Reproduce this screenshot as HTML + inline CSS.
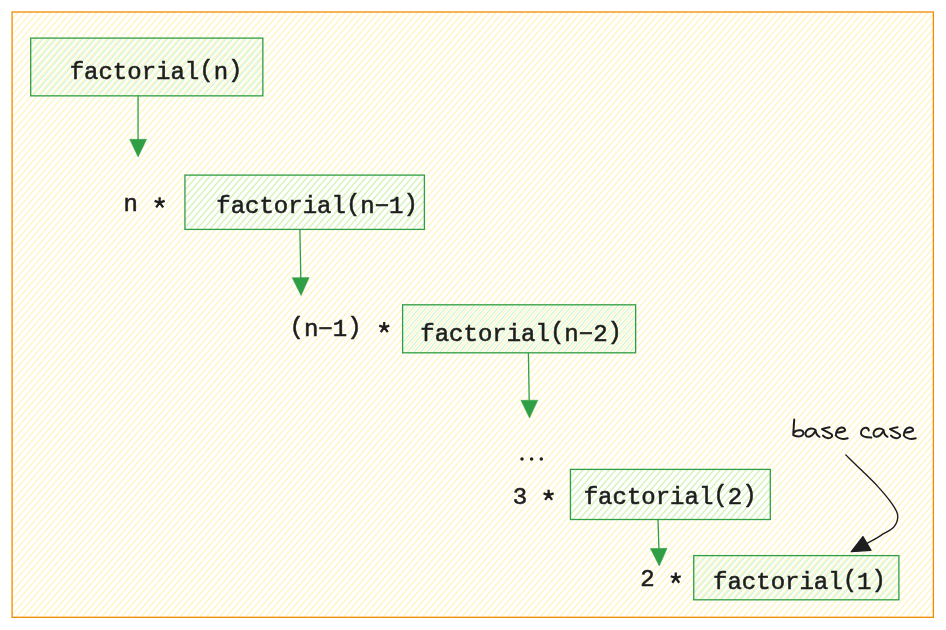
<!DOCTYPE html><html><head><meta charset="utf-8"><style>html,body{margin:0;padding:0;background:#fff;width:946px;height:630px;overflow:hidden}svg{display:block;will-change:transform}text{font-family:"Liberation Mono",monospace;font-size:24px;fill:#1e1e1e;stroke:#1e1e1e;stroke-width:0.55px}</style></head><body>
<svg width="946" height="630" viewBox="0 0 946 630">
<rect width="946" height="630" fill="#fff"/>
<path d="M18.62 12.00L12.07 19.53M25.16 12.00L12.07 27.06M31.71 12.00L12.07 34.60M38.26 12.00L12.07 42.13M44.80 12.00L12.07 49.66M51.35 12.00L12.07 57.19M57.89 12.00L12.07 64.72M64.44 12.00L12.07 72.26M70.99 12.00L12.07 79.79M77.53 12.00L12.07 87.32M84.08 12.00L12.07 94.85M90.63 12.00L12.07 102.39M97.17 12.00L12.07 109.92M103.72 12.00L12.07 117.45M110.27 12.00L12.07 124.98M116.81 12.00L12.07 132.51M123.36 12.00L12.07 140.05M129.91 12.00L12.07 147.58M136.45 12.00L12.07 155.11M143.00 12.00L12.07 162.64M149.54 12.00L12.07 170.17M156.09 12.00L12.07 177.71M162.64 12.00L12.07 185.24M169.18 12.00L12.07 192.77M175.73 12.00L12.07 200.30M182.28 12.00L12.07 207.83M188.82 12.00L12.07 215.37M195.37 12.00L12.07 222.90M201.92 12.00L12.07 230.43M208.46 12.00L12.07 237.96M215.01 12.00L12.07 245.49M221.55 12.00L12.07 253.03M228.10 12.00L12.07 260.56M234.65 12.00L12.07 268.09M241.19 12.00L12.07 275.62M247.74 12.00L12.07 283.16M254.29 12.00L12.07 290.69M260.83 12.00L12.07 298.22M267.38 12.00L12.07 305.75M273.93 12.00L12.07 313.28M280.47 12.00L12.07 320.82M287.02 12.00L12.07 328.35M293.56 12.00L12.07 335.88M300.11 12.00L12.07 343.41M306.66 12.00L12.07 350.94M313.20 12.00L12.07 358.48M319.75 12.00L12.07 366.01M326.30 12.00L12.07 373.54M332.84 12.00L12.07 381.07M339.39 12.00L12.07 388.60M345.94 12.00L12.07 396.14M352.48 12.00L12.07 403.67M359.03 12.00L12.07 411.20M365.58 12.00L12.07 418.73M372.12 12.00L12.07 426.26M378.67 12.00L12.07 433.80M385.21 12.00L12.07 441.33M391.76 12.00L12.07 448.86M398.31 12.00L12.07 456.39M404.85 12.00L12.07 463.93M411.40 12.00L12.07 471.46M417.95 12.00L12.07 478.99M424.49 12.00L12.07 486.52M431.04 12.00L12.07 494.05M437.59 12.00L12.07 501.59M444.13 12.00L12.07 509.12M450.68 12.00L12.07 516.65M457.22 12.00L12.07 524.18M463.77 12.00L12.07 531.71M470.32 12.00L12.07 539.25M476.86 12.00L12.07 546.78M483.41 12.00L12.07 554.31M489.96 12.00L12.07 561.84M496.50 12.00L12.07 569.37M503.05 12.00L12.07 576.91M509.60 12.00L12.07 584.44M516.14 12.00L12.07 591.97M522.69 12.00L12.07 599.50M529.24 12.00L12.07 607.04M535.78 12.00L12.07 614.57M542.33 12.00L16.24 617.30M548.87 12.00L22.79 617.30M555.42 12.00L29.33 617.30M561.97 12.00L35.88 617.30M568.51 12.00L42.43 617.30M575.06 12.00L48.97 617.30M581.61 12.00L55.52 617.30M588.15 12.00L62.07 617.30M594.70 12.00L68.61 617.30M601.25 12.00L75.16 617.30M607.79 12.00L81.71 617.30M614.34 12.00L88.25 617.30M620.88 12.00L94.80 617.30M627.43 12.00L101.34 617.30M633.98 12.00L107.89 617.30M640.52 12.00L114.44 617.30M647.07 12.00L120.98 617.30M653.62 12.00L127.53 617.30M660.16 12.00L134.08 617.30M666.71 12.00L140.62 617.30M673.26 12.00L147.17 617.30M679.80 12.00L153.72 617.30M686.35 12.00L160.26 617.30M692.89 12.00L166.81 617.30M699.44 12.00L173.35 617.30M705.99 12.00L179.90 617.30M712.53 12.00L186.45 617.30M719.08 12.00L192.99 617.30M725.63 12.00L199.54 617.30M732.17 12.00L206.09 617.30M738.72 12.00L212.63 617.30M745.27 12.00L219.18 617.30M751.81 12.00L225.73 617.30M758.36 12.00L232.27 617.30M764.91 12.00L238.82 617.30M771.45 12.00L245.37 617.30M778.00 12.00L251.91 617.30M784.54 12.00L258.46 617.30M791.09 12.00L265.00 617.30M797.64 12.00L271.55 617.30M804.18 12.00L278.10 617.30M810.73 12.00L284.64 617.30M817.28 12.00L291.19 617.30M823.82 12.00L297.74 617.30M830.37 12.00L304.28 617.30M836.92 12.00L310.83 617.30M843.46 12.00L317.38 617.30M850.01 12.00L323.92 617.30M856.55 12.00L330.47 617.30M863.10 12.00L337.01 617.30M869.65 12.00L343.56 617.30M876.19 12.00L350.11 617.30M882.74 12.00L356.65 617.30M889.29 12.00L363.20 617.30M895.83 12.00L369.75 617.30M902.38 12.00L376.29 617.30M908.93 12.00L382.84 617.30M915.47 12.00L389.39 617.30M922.02 12.00L395.93 617.30M928.56 12.00L402.48 617.30M409.02 617.30L933.40 13.97M415.57 617.30L933.40 21.50M422.12 617.30L933.40 29.03M428.66 617.30L933.40 36.57M435.21 617.30L933.40 44.10M441.76 617.30L933.40 51.63M448.30 617.30L933.40 59.16M454.85 617.30L933.40 66.69M461.40 617.30L933.40 74.23M467.94 617.30L933.40 81.76M474.49 617.30L933.40 89.29M481.04 617.30L933.40 96.82M487.58 617.30L933.40 104.35M494.13 617.30L933.40 111.89M500.67 617.30L933.40 119.42M507.22 617.30L933.40 126.95M513.77 617.30L933.40 134.48M520.31 617.30L933.40 142.01M526.86 617.30L933.40 149.55M533.41 617.30L933.40 157.08M539.95 617.30L933.40 164.61M546.50 617.30L933.40 172.14M553.05 617.30L933.40 179.68M559.59 617.30L933.40 187.21M566.14 617.30L933.40 194.74M572.68 617.30L933.40 202.27M579.23 617.30L933.40 209.80M585.78 617.30L933.40 217.34M592.32 617.30L933.40 224.87M598.87 617.30L933.40 232.40M605.42 617.30L933.40 239.93M611.96 617.30L933.40 247.46M618.51 617.30L933.40 255.00M625.06 617.30L933.40 262.53M631.60 617.30L933.40 270.06M638.15 617.30L933.40 277.59M644.69 617.30L933.40 285.12M651.24 617.30L933.40 292.66M657.79 617.30L933.40 300.19M664.33 617.30L933.40 307.72M670.88 617.30L933.40 315.25M677.43 617.30L933.40 322.78M683.97 617.30L933.40 330.32M690.52 617.30L933.40 337.85M697.07 617.30L933.40 345.38M703.61 617.30L933.40 352.91M710.16 617.30L933.40 360.45M716.71 617.30L933.40 367.98M723.25 617.30L933.40 375.51M729.80 617.30L933.40 383.04M736.34 617.30L933.40 390.57M742.89 617.30L933.40 398.11M749.44 617.30L933.40 405.64M755.98 617.30L933.40 413.17M762.53 617.30L933.40 420.70M769.08 617.30L933.40 428.23M775.62 617.30L933.40 435.77M782.17 617.30L933.40 443.30M788.72 617.30L933.40 450.83M795.26 617.30L933.40 458.36M801.81 617.30L933.40 465.89M808.35 617.30L933.40 473.43M814.90 617.30L933.40 480.96M821.45 617.30L933.40 488.49M827.99 617.30L933.40 496.02M834.54 617.30L933.40 503.55M841.09 617.30L933.40 511.09M847.63 617.30L933.40 518.62M854.18 617.30L933.40 526.15M860.73 617.30L933.40 533.68M867.27 617.30L933.40 541.22M873.82 617.30L933.40 548.75M880.37 617.30L933.40 556.28M886.91 617.30L933.40 563.81M893.46 617.30L933.40 571.34M900.00 617.30L933.40 578.88M906.55 617.30L933.40 586.41M913.10 617.30L933.40 593.94M919.64 617.30L933.40 601.47M926.19 617.30L933.40 609.00M932.74 617.30L933.40 616.54" stroke="#ffec99" stroke-width="1.3" stroke-opacity="0.6" fill="none"/>
<rect x="12.07" y="12.00" width="921.33" height="605.30" fill="none" stroke="#f08c00" stroke-width="1.3"/>
<path d="M37.25 38.10L30.70 45.63M43.79 38.10L30.70 53.16M50.34 38.10L30.70 60.70M56.89 38.10L30.70 68.23M63.43 38.10L30.70 75.76M69.98 38.10L30.70 83.29M76.52 38.10L30.70 90.82M83.07 38.10L32.88 95.85M89.62 38.10L39.43 95.85M96.16 38.10L45.97 95.85M102.71 38.10L52.52 95.85M109.26 38.10L59.06 95.85M115.80 38.10L65.61 95.85M122.35 38.10L72.16 95.85M128.90 38.10L78.70 95.85M135.44 38.10L85.25 95.85M141.99 38.10L91.80 95.85M148.54 38.10L98.34 95.85M155.08 38.10L104.89 95.85M161.63 38.10L111.44 95.85M168.17 38.10L117.98 95.85M174.72 38.10L124.53 95.85M181.27 38.10L131.07 95.85M187.81 38.10L137.62 95.85M194.36 38.10L144.17 95.85M200.91 38.10L150.71 95.85M207.45 38.10L157.26 95.85M214.00 38.10L163.81 95.85M220.55 38.10L170.35 95.85M227.09 38.10L176.90 95.85M233.64 38.10L183.45 95.85M240.18 38.10L189.99 95.85M246.73 38.10L196.54 95.85M253.28 38.10L203.08 95.85M259.82 38.10L209.63 95.85M216.18 95.85L262.85 42.15M222.72 95.85L262.85 49.68M229.27 95.85L262.85 57.21M235.82 95.85L262.85 64.75M242.36 95.85L262.85 72.28M248.91 95.85L262.85 79.81M255.46 95.85L262.85 87.34M262.00 95.85L262.85 94.87" stroke="#b2f2bb" stroke-width="1.3" stroke-opacity="0.6" fill="none"/>
<rect x="30.70" y="38.10" width="232.15" height="57.75" fill="none" stroke="#2f9e44" stroke-width="1.3"/>
<path d="M191.50 175.10L184.95 182.63M198.04 175.10L184.95 190.16M204.59 175.10L184.95 197.70M211.14 175.10L184.95 205.23M217.68 175.10L184.95 212.76M224.23 175.10L184.95 220.29M230.77 175.10L184.95 227.82M237.32 175.10L190.13 229.40M243.87 175.10L196.67 229.40M250.41 175.10L203.22 229.40M256.96 175.10L209.77 229.40M263.51 175.10L216.31 229.40M270.05 175.10L222.86 229.40M276.60 175.10L229.41 229.40M283.15 175.10L235.95 229.40M289.69 175.10L242.50 229.40M296.24 175.10L249.04 229.40M302.79 175.10L255.59 229.40M309.33 175.10L262.14 229.40M315.88 175.10L268.68 229.40M322.42 175.10L275.23 229.40M328.97 175.10L281.78 229.40M335.52 175.10L288.32 229.40M342.06 175.10L294.87 229.40M348.61 175.10L301.42 229.40M355.16 175.10L307.96 229.40M361.70 175.10L314.51 229.40M368.25 175.10L321.06 229.40M374.80 175.10L327.60 229.40M381.34 175.10L334.15 229.40M387.89 175.10L340.69 229.40M394.43 175.10L347.24 229.40M400.98 175.10L353.79 229.40M407.53 175.10L360.33 229.40M414.07 175.10L366.88 229.40M420.62 175.10L373.43 229.40M379.97 229.40L424.40 178.28M386.52 229.40L424.40 185.82M393.07 229.40L424.40 193.35M399.61 229.40L424.40 200.88M406.16 229.40L424.40 208.41M412.70 229.40L424.40 215.94M419.25 229.40L424.40 223.48" stroke="#b2f2bb" stroke-width="1.3" stroke-opacity="0.6" fill="none"/>
<rect x="184.95" y="175.10" width="239.45" height="54.30" fill="none" stroke="#2f9e44" stroke-width="1.3"/>
<path d="M409.15 304.80L402.60 312.33M415.69 304.80L402.60 319.86M422.24 304.80L402.60 327.40M428.79 304.80L402.60 334.93M435.33 304.80L402.60 342.46M441.88 304.80L402.60 349.99M448.42 304.80L406.71 352.80M454.97 304.80L413.25 352.80M461.52 304.80L419.80 352.80M468.06 304.80L426.35 352.80M474.61 304.80L432.89 352.80M481.16 304.80L439.44 352.80M487.70 304.80L445.98 352.80M494.25 304.80L452.53 352.80M500.80 304.80L459.08 352.80M507.34 304.80L465.62 352.80M513.89 304.80L472.17 352.80M520.44 304.80L478.72 352.80M526.98 304.80L485.26 352.80M533.53 304.80L491.81 352.80M540.07 304.80L498.36 352.80M546.62 304.80L504.90 352.80M553.17 304.80L511.45 352.80M559.71 304.80L518.00 352.80M566.26 304.80L524.54 352.80M572.81 304.80L531.09 352.80M579.35 304.80L537.63 352.80M585.90 304.80L544.18 352.80M592.45 304.80L550.73 352.80M598.99 304.80L557.27 352.80M605.54 304.80L563.82 352.80M612.08 304.80L570.37 352.80M618.63 304.80L576.91 352.80M625.18 304.80L583.46 352.80M631.72 304.80L590.01 352.80M596.55 352.80L635.65 307.81M603.10 352.80L635.65 315.35M609.64 352.80L635.65 322.88M616.19 352.80L635.65 330.41M622.74 352.80L635.65 337.94M629.28 352.80L635.65 345.48" stroke="#b2f2bb" stroke-width="1.3" stroke-opacity="0.6" fill="none"/>
<rect x="402.60" y="304.80" width="233.05" height="48.00" fill="none" stroke="#2f9e44" stroke-width="1.3"/>
<path d="M577.00 469.40L570.45 476.93M583.54 469.40L570.45 484.46M590.09 469.40L570.45 492.00M596.64 469.40L570.45 499.53M603.18 469.40L570.45 507.06M609.73 469.40L570.45 514.59M616.27 469.40L572.73 519.50M622.82 469.40L579.28 519.50M629.37 469.40L585.82 519.50M635.91 469.40L592.37 519.50M642.46 469.40L598.92 519.50M649.01 469.40L605.46 519.50M655.55 469.40L612.01 519.50M662.10 469.40L618.56 519.50M668.65 469.40L625.10 519.50M675.19 469.40L631.65 519.50M681.74 469.40L638.20 519.50M688.29 469.40L644.74 519.50M694.83 469.40L651.29 519.50M701.38 469.40L657.83 519.50M707.92 469.40L664.38 519.50M714.47 469.40L670.93 519.50M721.02 469.40L677.47 519.50M727.56 469.40L684.02 519.50M734.11 469.40L690.57 519.50M740.66 469.40L697.11 519.50M747.20 469.40L703.66 519.50M753.75 469.40L710.21 519.50M760.30 469.40L716.75 519.50M766.84 469.40L723.30 519.50M729.84 519.50L770.30 472.95M736.39 519.50L770.30 480.49M742.94 519.50L770.30 488.02M749.48 519.50L770.30 495.55M756.03 519.50L770.30 503.08M762.58 519.50L770.30 510.61M769.12 519.50L770.30 518.15" stroke="#b2f2bb" stroke-width="1.3" stroke-opacity="0.6" fill="none"/>
<rect x="570.45" y="469.40" width="199.85" height="50.10" fill="none" stroke="#2f9e44" stroke-width="1.3"/>
<path d="M700.30 555.60L693.75 563.13M706.84 555.60L693.75 570.66M713.39 555.60L693.75 578.20M719.94 555.60L693.75 585.73M726.48 555.60L693.75 593.26M733.03 555.60L694.61 599.80M739.57 555.60L701.16 599.80M746.12 555.60L707.71 599.80M752.67 555.60L714.25 599.80M759.21 555.60L720.80 599.80M765.76 555.60L727.34 599.80M772.31 555.60L733.89 599.80M778.85 555.60L740.44 599.80M785.40 555.60L746.98 599.80M791.95 555.60L753.53 599.80M798.49 555.60L760.08 599.80M805.04 555.60L766.62 599.80M811.59 555.60L773.17 599.80M818.13 555.60L779.72 599.80M824.68 555.60L786.26 599.80M831.22 555.60L792.81 599.80M837.77 555.60L799.35 599.80M844.32 555.60L805.90 599.80M850.86 555.60L812.45 599.80M857.41 555.60L818.99 599.80M863.96 555.60L825.54 599.80M870.50 555.60L832.09 599.80M877.05 555.60L838.63 599.80M883.60 555.60L845.18 599.80M890.14 555.60L851.73 599.80M896.69 555.60L858.27 599.80M864.82 599.80L898.90 560.59M871.37 599.80L898.90 568.12M877.91 599.80L898.90 575.65M884.46 599.80L898.90 583.18M891.00 599.80L898.90 590.72M897.55 599.80L898.90 598.25" stroke="#b2f2bb" stroke-width="1.3" stroke-opacity="0.6" fill="none"/>
<rect x="693.75" y="555.60" width="205.15" height="44.20" fill="none" stroke="#2f9e44" stroke-width="1.3"/>
<path d="M138.05 95.85L138.05 139.50" stroke="#2f9e44" stroke-width="1.3" fill="none"/>
<path d="M129.70 139.30L146.60 139.30L138.10 156.90Z" fill="#2f9e44" stroke="#2f9e44" stroke-width="0.5" stroke-linejoin="round"/>
<path d="M299.90 229.40L300.80 277.90" stroke="#2f9e44" stroke-width="1.3" fill="none"/>
<path d="M292.20 277.80L309.10 277.60L301.10 295.50Z" fill="#2f9e44" stroke="#2f9e44" stroke-width="0.5" stroke-linejoin="round"/>
<path d="M528.40 352.80L529.20 400.40" stroke="#2f9e44" stroke-width="1.3" fill="none"/>
<path d="M520.90 400.30L537.80 400.20L529.50 418.00Z" fill="#2f9e44" stroke="#2f9e44" stroke-width="0.5" stroke-linejoin="round"/>
<path d="M658.00 519.50L658.90 548.60" stroke="#2f9e44" stroke-width="1.3" fill="none"/>
<path d="M650.40 548.60L667.10 548.30L659.30 566.00Z" fill="#2f9e44" stroke="#2f9e44" stroke-width="0.5" stroke-linejoin="round"/>
<text x="69.65" y="78.80">factorial<tspan dy="-2.00">(</tspan><tspan dy="2.00">n</tspan><tspan dy="-2.00">)</tspan></text>
<text x="123.40" y="211.10">n</text>
<text x="216.25" y="213.30">factorial<tspan dy="-2.00">(</tspan><tspan dy="2.00">n</tspan>&#8722;1<tspan dy="-2.00">)</tspan></text>
<text x="289.50" y="335.80"><tspan dy="-2.00">(</tspan><tspan dy="2.00">n</tspan>&#8722;1<tspan dy="-2.00">)</tspan></text>
<text x="420.30" y="340.70">factorial<tspan dy="-2.00">(</tspan><tspan dy="2.00">n</tspan>&#8722;2<tspan dy="-2.00">)</tspan></text>
<text x="512.66" y="503.60">3</text>
<text x="583.70" y="504.40">factorial<tspan dy="-2.00">(</tspan><tspan dy="2.00">2</tspan><tspan dy="-2.00">)</tspan></text>
<text x="640.20" y="586.40">2</text>
<text x="713.05" y="588.60">factorial<tspan dy="-2.00">(</tspan><tspan dy="2.00">1</tspan><tspan dy="-2.00">)</tspan></text>
<path d="M159.65 202.60L159.65 197.30M159.65 202.60L164.69 200.96M159.65 202.60L154.61 200.96M159.65 202.60L163.14 207.40M159.65 202.60L156.16 207.40" stroke="#1e1e1e" stroke-width="2.3" fill="none"/>
<path d="M384.25 327.30L384.25 322.00M384.25 327.30L389.29 325.66M384.25 327.30L379.21 325.66M384.25 327.30L387.74 332.10M384.25 327.30L380.76 332.10" stroke="#1e1e1e" stroke-width="2.3" fill="none"/>
<path d="M548.60 495.10L548.60 489.80M548.60 495.10L553.64 493.46M548.60 495.10L543.56 493.46M548.60 495.10L552.09 499.90M548.60 495.10L545.11 499.90" stroke="#1e1e1e" stroke-width="2.3" fill="none"/>
<path d="M675.75 577.90L675.75 572.60M675.75 577.90L680.79 576.26M675.75 577.90L670.71 576.26M675.75 577.90L679.24 582.70M675.75 577.90L672.26 582.70" stroke="#1e1e1e" stroke-width="2.3" fill="none"/>
<circle cx="521.99" cy="459.06" r="1.75" fill="#1e1e1e"/>
<circle cx="531.58" cy="459.06" r="1.75" fill="#1e1e1e"/>
<circle cx="541.32" cy="459.06" r="1.75" fill="#1e1e1e"/>
<path d="M794.2 419.5C794 424 793.4 430 793.3 435.2C796 436.6 800.5 437 802.4 435.2C804.2 433.8 803.8 430.8 800.8 430.3C797.6 429.8 794.8 431.4 793.5 433M815.6 430.0C813.5 428.5 811.0 428.2 808.5 429.2C805.5 431 804.3 434.5 806.8 436.4C810.0 437.3 813.5 434.8 815.6 430.4C815.9 433.3 817.0 435.6 819.5 436.8M829.6 427.2C827.0 427.6 824.0 428.2 822.0 429.2C825.0 430.8 829.0 432.5 831.6 434.3C833.2 436.4 830.5 438.4 828.0 438.2C825.5 438 824.0 436.8 823.0 435.6M837.3 432.6C840.0 432.2 843.5 431.8 845.0 430.6C845.5 428.8 843.5 427.2 841.3 427.4C838.0 428 836.0 431.5 835.8 435.5C838.0 438.6 843.0 439.8 847.7 438.2M868.8 430.5C868.5 428.6 867 427.6 865.4 427.8C862.5 428.3 860.6 431 861 433.6C861.5 436.5 865 437.4 871.3 437.6M883.6 430.0C881.5 428.5 879.0 428.2 876.5 429.2C873.5 431 872.3 434.5 874.8 436.4C878.0 437.3 881.5 434.8 883.6 430.4C883.9 433.3 885.0 435.6 887.5 436.8M897.6 427.2C895.0 427.6 892.0 428.2 890.0 429.2C893.0 430.8 897.0 432.5 899.6 434.3C901.2 436.4 898.5 438.4 896.0 438.2C893.5 438 892.0 436.8 891.0 435.6M905.3 432.6C908.0 432.2 911.5 431.8 913.0 430.6C913.5 428.8 911.5 427.2 909.3 427.4C906.0 428 904.0 431.5 903.8 435.5C906.0 438.6 911.0 439.8 915.7 438.2" stroke="#1e1e1e" stroke-width="2.0" fill="none" stroke-linecap="round" stroke-linejoin="round"/>
<path d="M845.90 455.10C848.48 457.60 856.07 464.85 861.40 470.10C866.73 475.35 873.03 481.30 877.90 486.60C882.77 491.90 887.32 497.23 890.60 501.90C893.88 506.57 897.02 510.48 897.60 514.60C898.18 518.72 896.87 523.15 894.10 526.60C891.33 530.05 885.52 532.50 881.00 535.30C876.48 538.10 869.33 542.05 867.00 543.40" stroke="#1e1e1e" stroke-width="1.4" fill="none" stroke-linecap="round"/>
<path d="M851.3 551.7L862.9 536.6L871.0 550.3Z" fill="#1e1e1e" stroke="#1e1e1e" stroke-width="1.3" stroke-linejoin="round"/>
</svg></body></html>
